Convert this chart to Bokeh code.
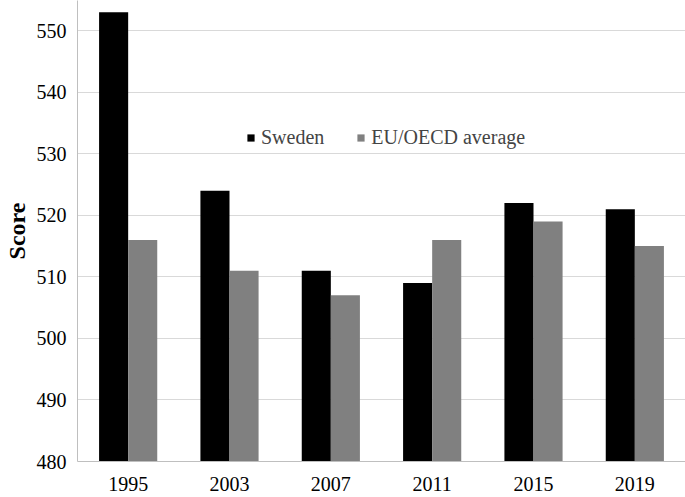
from bokeh.plotting import figure
from bokeh.models import FactorRange, Range1d, ColumnDataSource, Legend, LegendItem, SingleIntervalTicker
from bokeh.transform import dodge
from bokeh.embed import file_html
from bokeh.resources import INLINE

years = ["1995", "2003", "2007", "2011", "2015", "2019"]
sweden = [553, 524, 511, 509, 522, 521]
eu_oecd = [516, 511, 507, 516, 519, 515]

src = ColumnDataSource(dict(year=years, sweden=sweden, eu=eu_oecd))

FONT = "Liberation Serif"

p = figure(width=685, height=497, output_backend="svg", toolbar_location=None,
           x_range=FactorRange(*years), y_range=Range1d(480, 554.9),
           min_border_left=77, min_border_right=0, min_border_top=0, min_border_bottom=36)
p.outline_line_color = None
p.background_fill_color = "white"

r1 = p.vbar(x=dodge("year", -0.1435, range=p.x_range), top="sweden", bottom=480, width=0.287,
            source=src, color="black", line_color=None)
r2 = p.vbar(x=dodge("year", 0.1435, range=p.x_range), top="eu", bottom=480, width=0.287,
            source=src, color="#808080", line_color=None)

p.yaxis.ticker = SingleIntervalTicker(interval=10)
p.xgrid.grid_line_color = None
p.ygrid.grid_line_color = "#d9d9d9"
p.ygrid.grid_line_width = 1

for ax in (p.xaxis, p.yaxis):
    ax.axis_line_color = "#bfbfbf"
    ax.axis_line_width = 1
    ax.major_tick_line_color = None
    ax.minor_tick_line_color = None
    ax.major_tick_out = 0
    ax.major_tick_in = 0
    ax.minor_tick_out = 0
    ax.minor_tick_in = 0
    ax.major_label_text_font = FONT
    ax.major_label_text_font_size = "20px"
    ax.major_label_text_color = "black"

p.xaxis.major_label_standoff = 15
p.yaxis.major_label_standoff = 11
p.yaxis.axis_label = "Score"
p.yaxis.axis_label_text_font = FONT
p.yaxis.axis_label_text_font_size = "24px"
p.yaxis.axis_label_text_font_style = "bold"
p.yaxis.axis_label_text_color = "black"
p.yaxis.axis_label_standoff = 4

legend = Legend(items=[LegendItem(label="Sweden", renderers=[r1]),
                       LegendItem(label="EU/OECD average", renderers=[r2])],
                orientation="horizontal", location=(169, 312))
legend.label_text_font = FONT
legend.label_text_font_size = "20px"
legend.glyph_width = 9
legend.glyph_height = 9
legend.label_height = 20
legend.label_standoff = 6
legend.spacing = 32
legend.padding = 0
legend.margin = 0
legend.border_line_color = None
legend.background_fill_alpha = 0
p.add_layout(legend, "center")

open("out.html", "w").write(file_html(p, INLINE))
